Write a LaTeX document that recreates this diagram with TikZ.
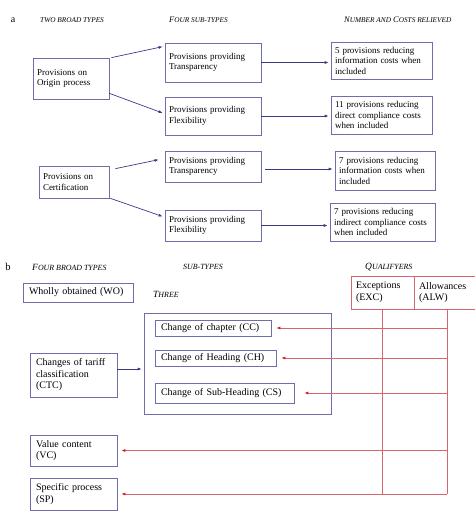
\documentclass[tikz,border=0pt]{standalone}
\usepackage{fontspec}
\setmainfont{Liberation Serif}
\usetikzlibrary{arrows.meta,calc,positioning}

\definecolor{boxblue}{HTML}{6E6EA8}
\definecolor{arrblue}{HTML}{3A3A8C}
\definecolor{qred}{HTML}{D8646E}
\definecolor{tipred}{HTML}{D0203A}
\newcommand{\smc}[2][7.3]{{\fontsize{#1}{9}\selectfont #2}}

\tikzset{
  box/.style={draw=boxblue, line width=0.7pt, inner xsep=4pt, inner ysep=2pt,
    align=left, font=\fontsize{9}{10.5}\selectfont},
  boxb/.style={box, inner xsep=6pt, font=\fontsize{10}{11.5}\selectfont},
  qbox/.style={boxb, draw=qred, inner xsep=5pt},
  head/.style={anchor=west, inner sep=0pt, font=\itshape\fontsize{8.5}{10}\selectfont},
  headb/.style={head, font=\itshape\fontsize{9.5}{11}\selectfont},
  link/.style={draw=arrblue, line width=0.7pt, -{Latex[length=4pt,width=3pt]}},
  qline/.style={draw=qred, line width=0.7pt},
  qarrow/.style={qline, -{Latex[color=tipred,length=4pt,width=3pt]}}
}

\begin{document}
\begin{tikzpicture}[x=1pt,y=-1pt]
  \useasboundingbox (0,0) rectangle (474,511);
  % part a
  \node[font=\fontsize{10}{12}\selectfont] (la) at (13,20) {a};
  \node[head] (hTwo) at (40,20) {\smc{TWO BROAD TYPES}};
  \node[head] (hFour) at (169,20) {F\smc{OUR SUB-TYPES}};
  \node[head] (hNum) at (344,20) {N\smc{UMBER AND} C\smc{OSTS RELIEVED}};

  \node[box, text width=68pt, minimum height=41pt] (orig) at (71,78.5) {Provisions on\\Origin process};
  \node[box, text width=88pt, minimum height=39pt] (tr1) at (213,62.5) {Provisions providing\\Transparency};
  \node[box, text width=88pt, minimum height=38pt] (fl1) at (213,116) {Provisions providing\\Flexibility};
  \node[box, text width=93pt, minimum height=37pt] (inf1) at (381.5,60.5) {5 provisions reducing\\information costs when\\included};
  \node[box, text width=93pt, minimum height=38pt] (dir1) at (381.5,115) {11 provisions reducing\\direct compliance costs\\when included};

  \node[box, text width=62pt, minimum height=32pt] (cert) at (74,182) {Provisions on\\Certification};
  \node[box, text width=88pt, minimum height=31pt] (tr2) at (213,166.5) {Provisions providing\\Transparency};
  \node[box, text width=88pt, minimum height=31pt] (fl2) at (213,225.5) {Provisions providing\\Flexibility};
  \node[box, text width=92pt, minimum height=39pt] (inf2) at (385,170.5) {7 provisions reducing\\information costs when\\included};
  \node[box, text width=97pt, minimum height=38pt] (ind2) at (382.5,222) {7 provisions reducing\\indirect compliance costs\\when included};

  \draw[link] ([xshift=2pt]orig.north east) -- ([shift={(-2pt,-4pt)}]tr1.north west);
  \draw[link] ([yshift=6pt]orig.south east) -- ([shift={(-2pt,3pt)}]fl1.west);
  \draw[link] (tr1.east) -- ([xshift=-2pt]tr1.east -| inf1.west);
  \draw[link] (fl1.east) -- ([xshift=-2pt]fl1.east -| dir1.west);
  \draw[link] ([shift={(6pt,-3pt)}]cert.north east) -- ([shift={(-6pt,-9pt)}]tr2.north west);
  \draw[link] ([xshift=1pt]cert.south east) -- ([shift={(-2pt,9pt)}]fl2.west);
  \draw[link] ([shift={(4pt,-2.5pt)}]tr2.east) -- ([shift={(-2pt,-2.5pt)}]tr2.east -| inf2.west);
  \draw[link] (fl2.east) -- ([xshift=-2pt]fl2.east -| ind2.west);

  % part b
  \node[font=\fontsize{10.5}{12}\selectfont] (lb) at (8,267) {b};
  \node[headb] (hFourB) at (32,267) {F\smc[7.9]{OUR BROAD TYPES}};
  \node[headb] (hSub) at (183,267) {\smc[7.9]{SUB-TYPES}};
  \node[headb] (hQual) at (365,267) {Q\smc[7.9]{UALIFYERS}};
  \node[headb] (hThree) at (153,294) {T\smc[7.9]{HREE}};

  \node[boxb, text width=98pt, minimum height=19pt] (wo) at (78,292.5) {Wholly obtained (WO)};
  \node[draw=boxblue, line width=0.7pt, minimum width=187pt, minimum height=101pt] (ctn) at (237.5,363.5) {};
  \node[boxb, text width=104pt, minimum height=16pt] (cc) at (213,328) {Change of chapter (CC)};
  \node[boxb, text width=109pt, minimum height=16pt] (ch) at (215.5,358) {Change of Heading (CH)};
  \node[boxb, text width=127pt, minimum height=20pt] (cs) at (224.5,393) {Change of Sub-Heading (CS)};
  \node[boxb, text width=75pt, minimum height=44pt] (ctc) at (73.5,375) {Changes of tariff\\classification\\(CTC)};
  \node[boxb, text width=75pt, minimum height=31pt] (vc) at (73.5,450.5) {Value content\\(VC)};
  \node[boxb, text width=75pt, minimum height=32pt] (sp) at (73.5,494) {Specific process\\(SP)};

  \node[qbox, text width=53pt, minimum height=33pt] (exc) at (382.5,292.5) {Exceptions\\(EXC)};
  \node[qbox, text width=56pt, minimum height=33pt] (alw) at (447,292.5) {Allowances\\(ALW)};

  \draw[link] ([yshift=6pt]ctc.east) -- ([xshift=-2pt,yshift=6pt]ctc.east -| ctn.west);

  \draw[qline] (exc.south) -- (exc.south |- sp.east);
  \draw[qline] (alw.south) -- (alw.south |- sp.east);
  \draw[qarrow] (alw.south |- cc.east) -- ([xshift=5pt]cc.east);
  \draw[qarrow] (alw.south |- ch.east) -- ([xshift=5pt]ch.east);
  \draw[qarrow] (alw.south |- cs.east) -- ([xshift=10pt]cs.east);
  \draw[qarrow] (alw.south |- vc.east) -- ([xshift=4pt]vc.east);
  \draw[qarrow] (alw.south |- sp.east) -- ([xshift=4pt]sp.east);
\end{tikzpicture}
\end{document}
